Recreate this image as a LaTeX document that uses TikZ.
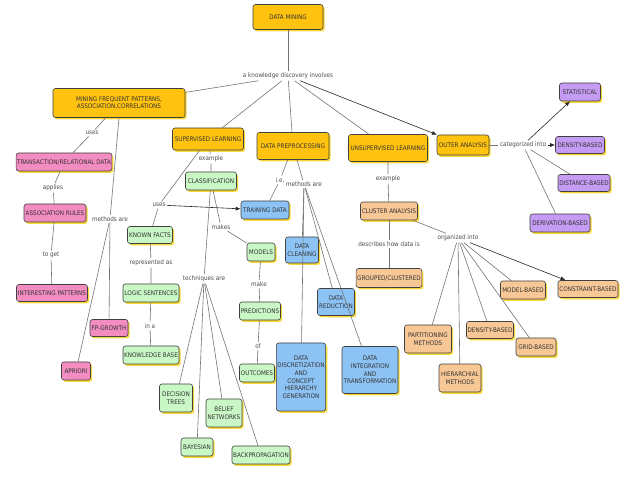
\documentclass[tikz,border=0pt]{standalone}
\usepackage{fontspec}
\setmainfont{DejaVu Sans Condensed}
\usetikzlibrary{shadows,arrows.meta}
\definecolor{cgold}{HTML}{FFC20E}
\definecolor{cpink}{HTML}{F38CC0}
\definecolor{cgreen}{HTML}{C9F7C6}
\definecolor{cblue}{HTML}{8DC3F4}
\definecolor{ctan}{HTML}{F8C796}
\definecolor{cpurp}{HTML}{C59CF3}
\definecolor{cshad}{HTML}{F6D83A}
\tikzset{
 box/.style={draw=black!75,rounded corners=2.5pt,line width=0.6pt,inner sep=1pt,align=center,
   font=\fontsize{6.3}{7.6}\selectfont,text=black!80,
   drop shadow={shadow xshift=1.6pt,shadow yshift=-1.8pt,fill=cshad,opacity=1}},
 gold/.style={box,fill=cgold},
 pink/.style={box,fill=cpink},
 green/.style={box,fill=cgreen},
 blue/.style={box,fill=cblue},
 tan/.style={box,fill=ctan},
 purp/.style={box,fill=cpurp},
 lab/.style={font=\fontsize{6.3}{7.6}\selectfont,text=black!70,inner sep=1.5pt,fill=white},
 ln/.style={draw=black!55,line width=0.6pt},
 ar/.style={ln,draw=black!85,-{Latex[length=5pt,width=4pt]}},
}
\newcommand{\nd}[7]{\node[#1,minimum width=#5pt,minimum height=#6pt] (#2) at (#3,#4) {#7};}
\begin{document}
\begin{tikzpicture}[x=1pt,y=-1pt]
\useasboundingbox (0,0) rectangle (638,478);
% boxes
\nd{gold}{DM}{288}{17}{70}{25}{DATA MINING}
\nd{gold}{MFP}{119}{103}{132}{29}{MINING FREQUENT PATTERNS,\\ASSOCIATION,CORRELATIONS}
\nd{gold}{SL}{208}{139}{71}{22}{SUPERVISED LEARNING}
\nd{gold}{DP}{293}{146}{72}{27}{DATA PREPROCESSING}
\nd{gold}{UL}{388}{148}{79}{27}{UNSUPERVISED LEARNING}
\nd{gold}{OA}{463}{145}{52}{20}{OUTER ANALYSIS}
\nd{pink}{TRD}{64}{162}{94}{18}{TRANSACTION/RELATIONAL DATA}
\nd{pink}{AR}{55}{213}{62}{18}{ASSOCIATION RULES}
\nd{pink}{IP}{52}{293}{71}{17}{INTERESTING PATTERNS}
\nd{pink}{FP}{109}{328}{38}{17}{FP-GROWTH}
\nd{pink}{AP}{76}{371}{29}{18}{APRIORI}
\nd{green}{CL}{211}{181}{51}{18}{CLASSIFICATION}
\nd{green}{KF}{150}{235}{45}{17}{KNOWN FACTS}
\nd{green}{LS}{151}{293}{56}{18}{LOGIC SENTENCES}
\nd{green}{KB}{151}{355}{56}{18}{KNOWLEDGE BASE}
\nd{green}{MOD}{261}{252}{28}{18}{MODELS}
\nd{green}{PRED}{260}{311}{41}{18}{PREDICTIONS}
\nd{green}{OUT}{257}{373}{35}{18}{OUTCOMES}
\nd{green}{DT}{176}{398}{33}{28}{DECISION\\TREES}
\nd{green}{BN}{224}{413}{36}{28}{BELIEF\\NETWORKS}
\nd{green}{BAY}{197}{447}{32}{18}{BAYESIAN}
\nd{green}{BP}{261}{455}{58}{18}{BACKPROPAGATION}
\nd{blue}{TD}{265}{210}{48}{18}{TRAINING DATA}
\nd{blue}{DC}{302}{250}{33}{26}{DATA\\CLEANING}
\nd{blue}{DR}{336}{302}{37}{27}{DATA\\REDUCTION}
\nd{blue}{DD}{301}{377}{38}{68}{DATA\\DISCRETIZATION\\AND\\CONCEPT\\HIERARCHY\\GENERATION}
\nd{blue}{DI}{370}{370}{56}{47}{DATA\\INTEGRATION\\AND\\TRANSFORMATION}
\nd{tan}{CA}{389}{211}{57}{18}{CLUSTER ANALYSIS}
\nd{tan}{GC}{389}{278}{65}{19}{GROUPED/CLUSTERED}
\nd{tan}{PM}{428}{339}{47}{28}{PARTITIONING\\METHODS}
\nd{tan}{HM}{460}{378}{42}{28}{HIERARCHIAL\\METHODS}
\nd{tan}{DB}{490}{330}{47}{17}{DENSITY-BASED}
\nd{tan}{GB}{536}{347}{40}{18}{GRID-BASED}
\nd{tan}{MB}{523}{290}{45}{18}{MODEL-BASED}
\nd{tan}{CB}{588}{289}{60}{17}{CONSTRAINT-BASED}
\nd{purp}{ST}{580}{92}{41}{18}{STATISTICAL}
\nd{purp}{DEN}{580}{145}{49}{17}{DENSITY-BASED}
\nd{purp}{DIS}{584}{183}{52}{17}{DISTANCE-BASED}
\nd{purp}{DER}{560}{223}{60}{18}{DERIVATION-BASED}
% labels
\node[lab] (kdi) at (288,76) {a knowledge discovery involves};
\node[lab] (u1) at (92,133) {uses};
\node[lab] (app) at (53,188) {applies};
\node[lab] (tg) at (51,255) {to get};
\node[lab] (m1) at (110,219) {methods are};
\node[lab] (ex1) at (211,159) {example};
\node[lab] (u2) at (159,205) {uses};
\node[lab] (rep) at (151,263) {represented as};
\node[lab] (ina) at (150,326) {in a};
\node[lab] (mk) at (221,227) {makes};
\node[lab] (mk2) at (259,284) {make};
\node[lab] (of) at (258,346) {of};
\node[lab] (tech) at (204,279) {techniques are};
\node[lab] (ie) at (280,180) {i.e,};
\node[lab] (m2) at (304,184) {methods are};
\node[lab] (ex2) at (388,179) {example};
\node[lab] (desc) at (389,244) {describes how data is};
\node[lab] (org) at (458,238) {organized into};
\node[lab] (cat) at (523,145) {categorized into};
% connectors
\draw[ln] (DM) -- (kdi);
\draw[ln] (kdi) -- (MFP);
\draw[ln] (kdi) -- (SL);
\draw[ln] (kdi) -- (DP);
\draw[ln] (kdi) -- (UL);
\draw[ar] (kdi) -- (OA);
\draw[ln] (MFP) -- (u1) -- (TRD);
\draw[ln] (TRD) -- (app) -- (AR);
\draw[ln] (AR) -- (tg) -- (IP);
\draw[ln] (MFP.south) ++(0,0) -- (m1);
\draw[ln] (m1) -- (FP);
\draw[ln] (m1) -- (AP);
\draw[ln] (SL) -- (ex1) -- (CL);
\draw[ln] (SL) -- (u2);
\draw[ar] (u2) -- (TD);
\draw[ln] (u2) -- (KF);
\draw[ln] (KF) -- (rep) -- (LS);
\draw[ln] (LS) -- (ina) -- (KB);
\draw[ln] (CL) -- (mk) -- (MOD);
\draw[ln] (MOD) -- (mk2) -- (PRED);
\draw[ln] (PRED) -- (of) -- (OUT);
\draw[ln] (CL) -- (tech);
\draw[ln] (tech) -- (DT);
\draw[ln] (tech) -- (BN);
\draw[ln] (tech) -- (BAY);
\draw[ln] (tech) -- (BP);
\draw[ln] (DP) -- (ie) -- (TD);
\draw[ln] (DP) -- (m2);
\draw[ln] (m2) -- (DC);
\draw[ln] (m2) -- (DR);
\draw[ln] (m2) -- (DD);
\draw[ln] (m2) -- (DI);
\draw[ln] (UL) -- (ex2) -- (CA);
\draw[ln] (CA) -- (desc) -- (GC);
\draw[ln] (CA) -- (org);
\draw[ln] (org) -- (PM);
\draw[ln] (org) -- (HM);
\draw[ln] (org) -- (DB);
\draw[ln] (org) -- (GB);
\draw[ln] (org) -- (MB);
\draw[ar] (org) -- (CB);
\draw[ln] (OA) -- (cat);
\draw[ar] (cat) -- (ST);
\draw[ar] (cat) -- (DEN);
\draw[ln] (cat) -- (DIS);
\draw[ln] (cat) -- (DER);
\end{tikzpicture}
\end{document}
